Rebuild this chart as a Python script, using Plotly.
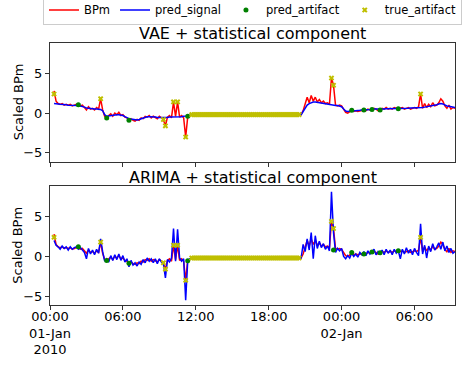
import pandas as pd
import plotly.graph_objects as go
from plotly.subplots import make_subplots

# ---------------- data ----------------
seg_a_start, seg_a_end = "2010-01-01 00:20", "2010-01-01 11:30"
gap_start, gap_end = "2010-01-01 11:40", "2010-01-01 20:30"
seg_b_start, seg_b_end = "2010-01-01 20:40", "2010-01-02 09:20"

bpm_a = [2.8, 1.5, 1.2, 1.1, 1.2, 1.0, 1.1, 1.0, 1.1, 0.9,
         1.0, 1.1, 1.05, 0.9, 1.0, 0.7, 0.4, 0.8, 0.5, 0.6,
         0.4, 0.7, 0.5, 1.8, 0.4, -0.4, -0.6, -0.3, -0.1, -0.4,
         0.0, -0.2, 0.1, -0.3, -0.2, -0.5, -0.6, -0.9, -0.7, -0.9,
         -1.0, -0.8, -0.9, -0.6, -0.7, -0.4, -0.5, -0.3, -0.6, -0.4,
         -0.5, -0.7, -0.4, -0.6, -0.8, -1.6, -0.5, -0.3, -0.6, 1.4,
         -0.4, 1.4, -0.5, -0.3, -0.6, -3.0, -0.5, -0.4]
gap_level = [-0.2, -0.2, -0.2, -0.2, -0.2, -0.2, -0.2, -0.2, -0.2,
             -0.2, -0.2, -0.2, -0.2, -0.2, -0.2, -0.2, -0.2, -0.2,
             -0.2, -0.2, -0.2, -0.2, -0.2, -0.2, -0.2, -0.2, -0.2,
             -0.2, -0.2, -0.2, -0.2, -0.2, -0.2, -0.2, -0.2, -0.2,
             -0.2, -0.2, -0.2, -0.2, -0.2, -0.2, -0.2, -0.2, -0.2,
             -0.2, -0.2, -0.2, -0.2, -0.2, -0.2, -0.2, -0.2, -0.2]
bpm_b = [-0.2, 0.3, 1.2, 2.0, 1.3, 2.2, 1.5, 2.0, 1.4, 1.7,
         1.3, 1.5, 1.2, 1.3, 1.1, 4.4, 3.5, 1.0, 0.9, 1.0,
         0.9, 0.5, 0.1, 0.0, 0.2, 0.35, 0.2, 0.3, 0.2, 0.3,
         0.4, 0.4, 0.3, 0.5, 0.4, 0.45, 0.6, 0.5, 0.3, 0.4,
         0.6, 0.5, 0.7, 0.5, 0.6, 0.5, 0.7, 0.6, 0.55, 0.6,
         0.7, 0.5, 0.6, 0.7, 0.5, 0.6, 0.7, 0.6, 0.8, 2.4,
         0.6, 1.2, 0.7, 1.1, 0.8, 1.3, 0.9, 1.0, 1.3, 1.8,
         1.5, 0.9, 0.6, 1.0, 0.5, 0.7, 0.6]

vae_a = [1.2, 1.2, 1.15, 1.1, 1.1, 1.05, 1.05, 1.0, 1.0, 1.0,
         1.0, 1.0, 0.95, 0.9, 0.85, 0.75, 0.65, 0.6, 0.55, 0.5,
         0.5, 0.5, 0.5, 0.45, 0.3, -0.2, -0.4, -0.35, -0.3, -0.25,
         -0.2, -0.2, -0.2, -0.25, -0.3, -0.45, -0.6, -0.7, -0.75, -0.8,
         -0.85, -0.85, -0.8, -0.7, -0.6, -0.5, -0.45, -0.45, -0.45, -0.5,
         -0.5, -0.55, -0.55, -0.6, -0.6, -0.6, -0.55, -0.5, -0.5, -0.5,
         -0.5, -0.5, -0.45, -0.45, -0.4, -0.4, -0.35, -0.3]
vae_b = [-0.2, 0.2, 0.7, 1.0, 1.2, 1.35, 1.4, 1.4, 1.35, 1.3,
         1.25, 1.2, 1.15, 1.1, 1.05, 1.0, 1.0, 0.95, 0.95, 0.9,
         0.8, 0.5, 0.25, 0.2, 0.25, 0.3, 0.3, 0.3, 0.3, 0.35,
         0.4, 0.4, 0.4, 0.45, 0.45, 0.45, 0.5, 0.5, 0.45, 0.45,
         0.5, 0.5, 0.55, 0.55, 0.55, 0.55, 0.6, 0.6, 0.6, 0.6,
         0.6, 0.6, 0.6, 0.6, 0.65, 0.65, 0.65, 0.65, 0.7, 0.7,
         0.7, 0.75, 0.8, 0.8, 0.85, 0.9, 0.95, 1.05, 1.15, 1.2,
         1.15, 1.0, 0.9, 0.85, 0.8, 0.75, 0.7]

arima_a = [2.0, 1.4, 1.2, 0.9, 1.3, 1.0, 1.2, 0.8, 1.2, 0.9,
           1.1, 1.2, 0.9, 1.1, 0.8, 0.5, -0.3, 1.0, 0.3, 0.8,
           0.2, 0.9, 0.4, 2.2, 0.6, -0.6, -0.3, -0.7, 0.1, -0.5,
           0.2, -0.4, 0.3, -0.5, 0.1, -0.7, -0.3, -1.3, -0.5, -1.1,
           -0.8, -1.2, -0.7, -1.0, -0.4, -0.8, -0.2, -0.6, -0.3, -0.8,
           -0.3, -0.9, -0.3, -0.7, -0.9, -2.7, -0.4, -0.7, -0.2, 3.5,
           -0.6, 3.4, -0.2, -0.6, -0.3, -5.5, -0.6, -0.3]
arima_b = [-0.2, 1.5, 0.6, 2.2, 0.8, 3.0, -0.3, 2.6, 1.0, 1.9,
           1.1, 1.6, 0.9, 1.3, 0.7, 8.1, 3.0, 0.5, 1.0, 0.7,
           1.0, 0.0, -0.3, 0.1, -0.2, 0.4, 0.0, 0.3, -0.1, 0.5,
           0.2, 0.6, 0.1, 0.7, 0.3, 0.5, 0.9, 0.2, 0.6, 0.3,
           0.8, 0.2, 0.9, 0.4, 0.8, 0.2, 0.9, 0.4, 0.7, -0.3,
           0.9, 0.3, 1.1, 0.4, 0.9, 0.2, 1.0, 0.5, 0.1, 4.1,
           0.3, 1.4, -0.2, 1.3, 0.6, 1.6, 0.8, 1.2, 1.7, 0.9,
           1.8, 0.7, 1.3, 0.5, 1.0, 0.4, 0.6]

vae_art_times = ["2010-01-01 02:20", "2010-01-01 04:40", "2010-01-01 06:30",
                 "2010-01-01 11:20", "2010-01-02 00:50", "2010-01-02 01:50",
                 "2010-01-02 02:30", "2010-01-02 03:10", "2010-01-02 04:40"]
vae_art_vals = [1.05, -0.6, -0.9, -0.4, 0.35, 0.4, 0.45, 0.4, 0.55]

arima_art_times = ["2010-01-01 02:20", "2010-01-01 04:40", "2010-01-01 06:30",
                   "2010-01-01 11:20", "2010-01-01 23:20", "2010-01-02 00:50",
                   "2010-01-02 01:50", "2010-01-02 02:30", "2010-01-02 03:10",
                   "2010-01-02 04:40"]
arima_art_vals = [1.2, -0.5, -0.85, -0.55, 0.8, 0.5, 0.3, 0.55, 0.45, 0.7]

true_art_times = ["2010-01-01 00:20", "2010-01-01 04:10", "2010-01-01 09:20",
                  "2010-01-01 09:30", "2010-01-01 10:10", "2010-01-01 10:30",
                  "2010-01-01 11:10", "2010-01-01 23:10", "2010-01-01 23:20",
                  "2010-01-02 06:30"]
true_art_vals = [2.4, 1.8, -0.8, -1.6, 1.4, 1.4, -3.0, 4.4, 3.5, 2.4]

tick_vals = ["2010-01-01 00:00", "2010-01-01 06:00", "2010-01-01 12:00",
             "2010-01-01 18:00", "2010-01-02 00:00", "2010-01-02 06:00"]
tick_text = ["00:00<br>01-Jan<br>2010", "06:00", "12:00", "18:00",
             "00:00<br>02-Jan", "06:00"]
titles = ["VAE + statistical component", "ARIMA + statistical component"]
y_title = "Scaled BPm"

# ---------------- build ----------------
t_a = list(pd.date_range(seg_a_start, seg_a_end, freq="10min"))
t_gap = list(pd.date_range(gap_start, gap_end, freq="10min"))
t_b = list(pd.date_range(seg_b_start, seg_b_end, freq="10min"))
t_all = t_a + t_gap + t_b

bpm = bpm_a + gap_level + bpm_b
vae = vae_a + gap_level + vae_b
arima = arima_a + gap_level + arima_b

true_x = [pd.Timestamp(s) for s in true_art_times] + t_gap
true_y = true_art_vals + gap_level

FONT = "DejaVu Sans"
RED, BLUE, GREEN, YEL = "#ff0000", "#0000ff", "#008000", "#bfbf00"

fig = make_subplots(rows=2, cols=1, shared_xaxes=True, vertical_spacing=0.094)

panels = [(vae, vae_art_times, vae_art_vals), (arima, arima_art_times, arima_art_vals)]
for i, (pred, at, av) in enumerate(panels):
    row = i + 1
    show = (i == 0)
    fig.add_trace(go.Scatter(x=t_all, y=bpm, mode="lines", name="BPm",
                             line=dict(color=RED, width=1.5), showlegend=show,
                             legendrank=1), row=row, col=1)
    fig.add_trace(go.Scatter(x=t_all, y=pred, mode="lines", name="pred_signal",
                             line=dict(color=BLUE, width=1.5), showlegend=show,
                             legendrank=2), row=row, col=1)
    fig.add_trace(go.Scatter(x=[pd.Timestamp(s) for s in at], y=av, mode="markers",
                             name="pred_artifact",
                             marker=dict(color=GREEN, size=5, symbol="circle"),
                             showlegend=show, legendrank=3), row=row, col=1)
    fig.add_trace(go.Scatter(x=true_x, y=true_y, mode="markers", name="true_artifact",
                             marker=dict(color=YEL, size=5, symbol="x"),
                             showlegend=show, legendrank=4), row=row, col=1)

x_common = dict(range=["2010-01-01 00:00", "2010-01-02 09:20"],
                tickvals=tick_vals, ticktext=tick_text,
                showline=True, mirror=True, linecolor="#333333", linewidth=1,
                ticks="outside", ticklen=4, tickcolor="#333333",
                showgrid=False, zeroline=False,
                tickfont=dict(family=FONT, size=13, color="black"))
fig.update_xaxes(**x_common)
fig.update_xaxes(showticklabels=False, row=1, col=1)
fig.update_xaxes(ticklabelstandoff=-5, row=2, col=1)

fig.update_yaxes(range=[-6.1, 8.8], tickvals=[-5, 0, 5], ticktext=["\u22125", "0", "5"],
                 showline=True, mirror=True, linecolor="#333333", linewidth=1,
                 ticks="outside", ticklen=4, tickcolor="#333333",
                 showgrid=False, zeroline=False,
                 tickfont=dict(family=FONT, size=13, color="black"))

# panel titles
fig.add_annotation(text=titles[0], xref="paper", yref="paper", x=0.5, y=1.037,
                   xanchor="center", yanchor="middle", showarrow=False,
                   font=dict(family=FONT, size=16, color="black"))
fig.add_annotation(text=titles[1], xref="paper", yref="paper", x=0.5, y=0.488,
                   xanchor="center", yanchor="middle", showarrow=False,
                   font=dict(family=FONT, size=16, color="black"))
# y-axis titles
for yd in ["y domain", "y2 domain"]:
    fig.add_annotation(text=y_title, xref="paper", yref=yd, x=-0.079, y=0.5,
                       xanchor="center", yanchor="middle", showarrow=False, textangle=-90,
                       font=dict(family=FONT, size=13, color="black"))

fig.update_layout(
    width=474, height=376,
    margin=dict(l=50, r=19, t=43, b=71, autoexpand=False),
    paper_bgcolor="white", plot_bgcolor="white",
    font=dict(family=FONT, size=12, color="black"),
    legend=dict(orientation="h", x=-0.0173, xanchor="left", y=1.126, yanchor="middle",
                bordercolor="#cccccc", borderwidth=1, bgcolor="white",
                font=dict(family=FONT, size=11.5, color="black"),
                itemwidth=30, tracegroupgap=0),
)

fig.write_html("out.html", config={"displayModeBar": False},
               post_script="document.body.style.margin='0px';")
